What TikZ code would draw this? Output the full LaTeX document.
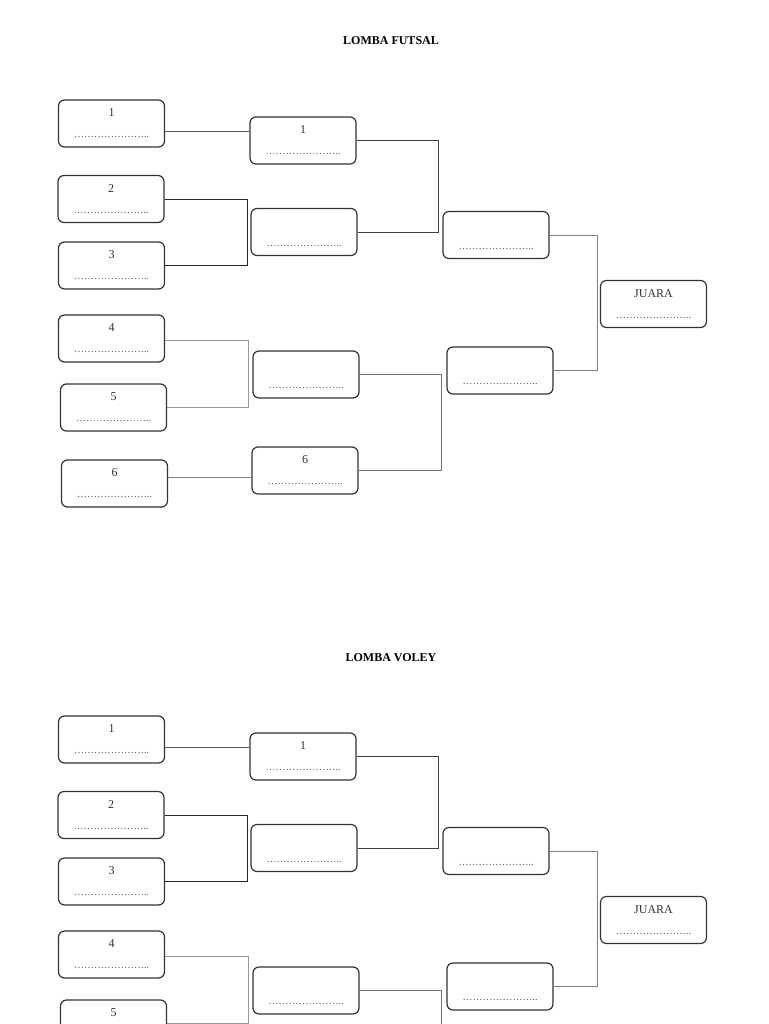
\documentclass[tikz,border=0pt]{standalone}
\usepackage{fontspec}
\setmainfont{Liberation Serif}
\usetikzlibrary{calc}
\tikzset{
  box/.style={draw=black!80, line width=0.9pt, rounded corners=4.5pt,
    minimum width=79.5pt, minimum height=35.25pt, inner sep=0pt, fill=white},
  num/.style={anchor=base, font=\fontsize{9}{10}\selectfont, text=black!80, inner sep=0pt},
  dots/.style={anchor=base, font=\fontsize{7.5}{9}\selectfont, text=black!70, inner sep=0pt},
  title/.style={anchor=base, font=\bfseries\fontsize{9}{11}\selectfont, inner sep=0pt},
  wire/.style={line width=0.75pt},
}
\newcommand\bbox[4]{%
  \node[box] (#1) at (#2,#3) {};
  \if\relax\detokenize{#4}\relax\else
    \node[num] (#1-n) at ($(#1.north)+(0,17.5)$) {#4};
  \fi
  \node[dots] (#1-d) at ($(#1.north)+(0,38.5)$) {…………………..};
}
\newcommand\bracketdiagram[3]{%
\begin{scope}[shift={(0,#2)}]
  \node[title] (#1title) at (391,45) {#3};
  \bbox{#1a1}{111.5}{123.5}{1}
  \bbox{#1a2}{111}{199}{2}
  \bbox{#1a3}{111.5}{265.5}{3}
  \bbox{#1a4}{111.5}{338.5}{4}
  \bbox{#1a5}{113.5}{407.5}{5}
  \bbox{#1a6}{114.5}{483.5}{6}
  \bbox{#1b1}{303}{140.5}{1}
  \bbox{#1b2}{304}{232}{}
  \bbox{#1b3}{306}{374.5}{}
  \bbox{#1b4}{305}{470.5}{6}
  \bbox{#1c1}{496}{235}{}
  \bbox{#1c2}{500}{370.5}{}
  \bbox{#1j}{653.5}{304}{JUARA}
  \draw[wire, draw=black!65] (#1a1.east |- 0,131) -- (#1b1.west |- 0,131);
  \draw[wire, draw=black!85] (#1a2.east) -- (#1a2.east -| 247,0) -- (#1a3.east -| 247,0) -- (#1a3.east);
  \draw[wire, draw=black!40] (#1a4.east |- 0,340) -- (248,340) -- (248,407) -- (#1a5.east |- 0,407);
  \draw[wire, draw=black!50] (#1a6.east |- 0,477) -- (#1b4.west |- 0,477);
  \draw[wire, draw=black!75] (#1b1.east) -- (#1b1.east -| 438,0) -- (#1b2.east -| 438,0) -- (#1b2.east);
  \draw[wire, draw=black!55] (#1b3.east) -- (#1b3.east -| 441,0) -- (#1b4.east -| 441,0) -- (#1b4.east);
  \draw[wire, draw=black!50] (#1c1.east) -- (#1c1.east -| 597,0) -- (#1c2.east -| 597,0) -- (#1c2.east);
\end{scope}}
\begin{document}
\begin{tikzpicture}[x=0.75pt, y=-0.75pt]
  \useasboundingbox (0,0) rectangle (768,1024);
  \fill[white] (0,0) rectangle (768,1024);
  \clip (0,0) rectangle (768,1024);
  \bracketdiagram{f}{0}{LOMBA FUTSAL}
  \bracketdiagram{v}{616}{LOMBA VOLEY}
\end{tikzpicture}
\end{document}
